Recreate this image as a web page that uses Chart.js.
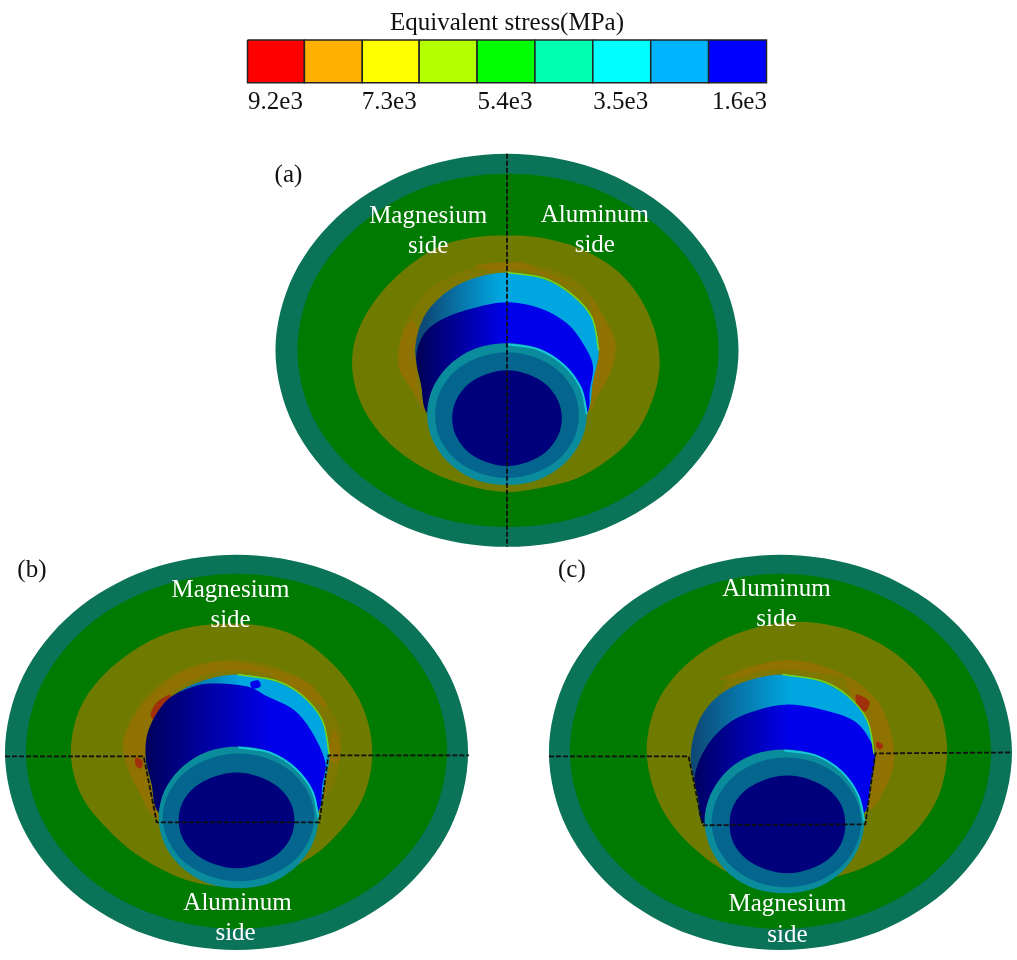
<!DOCTYPE html>
<html>
<head>
<meta charset="utf-8">
<title>Equivalent stress</title>
<script src="https://cdn.jsdelivr.net/npm/chart.js@4/dist/chart.umd.min.js"></script>
<style>
    body { margin: 0; background: #fff; }
    canvas { display: block; }
</style>
</head>
<body>
<canvas id="stress_chart" width="1017" height="960"></canvas>
<script>
// color bar
const bar_edges  = [247, 304, 362, 419, 477, 535, 593, 651, 709, 767];
const bar_colors = ["#ff0000", "#ffb000", "#ffff00", "#b4ff00", "#00ff00", "#00ffb0", "#00ffff", "#00b4ff", "#0000ff"];
const bar_ticks  = ["9.2e3", "7.3e3", "5.4e3", "3.5e3", "1.6e3"];
const bar_tick_x = [275, 389, 505, 621, 740];

// panel (a) outlines
const a_outer = [[739,350],[721,425],[671,489],[596,532],[507,547],[418,532],[343,489],[293,425],[275,350],[293,275],[343,211],[418,168],[507,153],[596,168],[671,211],[721,275]];
const a_inner = [[719,350],[703,418],[657,475],[589,514],[508,527],[427,514],[359,475],[313,418],[297,350],[313,282],[359,225],[427,186],[508,173],[589,186],[657,225],[703,282]];
const a_olive = [[507,235],[540,237],[580,248],[617,270],[640,297],[655,330],[660,363],[655,393],[640,427],[617,453],[580,477],[540,488],[507,492],[473,487],[433,473],[397,450],[370,420],[355,387],[352,355],[360,325],[377,297],[403,270],[437,247],[473,237]];
const a_halo  = [[507,262],[530,263],[573,278],[593,297],[607,320],[617,343],[612,370],[600,390],[588,412],[427,412],[412,390],[398,367],[400,337],[408,317],[427,290],[453,275],[480,265]];
const a_patch1 = [[398,357],[403,333],[412,320],[417,330],[415,357],[420,397],[427,412],[412,390],[400,370]];
const a_patch2 = [[590,297],[603,317],[615,343],[610,373],[597,397],[588,412],[593,373],[597,330]];
const a_patch3 = [[475,265],[520,262],[540,270],[580,287],[567,283],[527,270],[490,270]];
const a_wall  = [[599,350],[592,318],[572,295],[545,279],[507,272],[470,279],[442,295],[423,318],[415,350],[421,382],[427,413],[455,430],[560,430],[587,413],[593,382]];
const a_band  = [[507,302],[540,308],[567,323],[583,343],[593,365],[590,390],[587,413],[560,430],[455,430],[427,413],[421,385],[416,357],[423,335],[440,320],[473,308]];
const a_ring1 = [[587,414],[581,441],[564,464],[538,480],[507,485],[476,480],[450,464],[433,441],[427,414],[433,387],[450,364],[476,348],[507,343],[538,348],[564,364],[581,387]];
const a_ring2 = [[579,415],[574,439],[558,460],[535,473],[507,478],[479,473],[456,460],[440,439],[435,415],[440,391],[456,370],[479,357],[507,352],[535,357],[558,370],[574,391]];
const a_core  = [[562,418],[558,436],[546,452],[528,462],[507,466],[486,462],[468,452],[456,436],[452,418],[456,400],[468,384],[486,374],[507,370],[528,374],[546,384],[558,400]];
const a_edge  = [[507,272],[545,278],[572,294],[592,317],[599,350]];
const a_rim   = [[507,344],[538,349],[564,365],[581,388],[587,414]];
const a_dash  = [[507,153],[507,547]];

// panel (b) outlines
const b_outer = [[468,753],[450,829],[400,893],[325,936],[236,951],[147,936],[72,893],[22,829],[4,753],[22,677],[72,613],[147,570],[236,555],[325,570],[400,613],[450,677]];
const b_inner = [[447,752],[431,820],[385,878],[317,916],[236,930],[155,916],[87,878],[41,820],[25,752],[41,684],[87,626],[155,588],[236,574],[317,588],[385,626],[431,684]];
const b_olive = [[372,752],[361,802],[325,847],[285,872],[245,887],[190,882],[140,858],[105,828],[80,795],[70,752],[81,705],[114,665],[163,635],[222,624],[285,632],[328,660],[360,702]];
const b_halo  = [[230,660],[267,665],[307,683],[327,707],[340,730],[340,750],[337,773],[327,797],[317,807],[157,820],[137,790],[125,763],[123,737],[137,707],[160,683],[190,667]];
const b_patch1 = [[123,740],[140,707],[160,687],[180,673],[220,662],[260,667],[307,683],[327,707],[307,700],[267,675],[220,672],[180,687],[157,713],[145,750],[157,820],[137,790],[125,763]];
const b_patch2 = [[333,730],[340,747],[338,763],[329,760]];
const b_wall  = [[329,755],[322,722],[302,697],[275,682],[237,675],[200,682],[172,697],[153,722],[145,757],[151,785],[157,812],[185,830],[290,830],[318,812],[324,785]];
const b_band  = [[210,684],[247,687],[267,697],[293,710],[310,730],[325,763],[322,785],[318,812],[290,830],[185,830],[157,812],[151,785],[145,757],[148,730],[167,700],[193,687]];
const b_ring1 = [[318,818],[312,845],[295,868],[269,884],[238,889],[207,884],[181,868],[164,845],[158,818],[164,791],[181,768],[207,752],[238,747],[269,752],[295,768],[312,791]];
const b_ring2 = [[314,818],[308,842],[292,863],[267,877],[238,882],[209,877],[184,863],[168,842],[162,818],[168,794],[184,773],[209,759],[238,754],[267,759],[292,773],[308,794]];
const b_core  = [[294,821],[290,839],[277,855],[258,865],[236,869],[214,865],[195,855],[182,839],[178,821],[182,803],[195,787],[214,777],[236,773],[258,777],[277,787],[290,803]];
const b_edge  = [[237,675],[275,681],[302,696],[322,721],[329,755]];
const b_rim   = [[238,748],[269,753],[295,769],[312,792],[318,818]];
const b_red1  = [[157,702],[170,695],[163,708],[153,720],[150,714]];
const b_red2  = [[135,758],[142,762],[140,769],[135,766]];
const b_blob  = [[250,683],[258,681],[260,687],[252,689]];
const b_dash  = [[4,757],[143,757],[156,823],[319,823],[328,756],[469,756]];

// panel (c) outlines
const c_outer = [[1013,753],[995,829],[945,893],[870,936],[781,951],[692,936],[617,893],[567,829],[549,753],[567,677],[617,613],[692,570],[781,555],[870,570],[945,613],[995,677]];
const c_inner = [[992,752],[976,820],[930,878],[862,916],[781,930],[700,916],[632,878],[586,820],[570,752],[586,684],[632,626],[700,588],[781,574],[862,588],[930,626],[976,684]];
const c_olive = [[948,752],[937,802],[904,844],[855,872],[790,884],[735,876],[690,845],[660,805],[647,752],[658,702],[690,662],[737,634],[797,622],[855,632],[904,660],[937,702]];
const c_halo  = [[777,662],[810,663],[847,677],[877,700],[890,727],[895,760],[887,787],[870,810],[720,800],[715,720],[733,675]];
const c_patch1 = [[847,677],[877,700],[890,727],[895,760],[887,787],[870,810],[875,763],[870,727],[853,700]];
const c_patch2 = [[720,680],[773,662],[810,663],[847,677],[810,672],[773,670],[737,678]];
const c_wall  = [[875,755],[868,722],[848,697],[821,682],[783,675],[746,682],[718,697],[699,722],[691,757],[697,790],[703,823],[730,835],[840,835],[866,812],[871,785]];
const c_band  = [[790,705],[830,712],[857,723],[872,743],[876,757],[871,785],[866,812],[840,835],[730,835],[703,823],[699,800],[695,777],[707,747],[730,723],[760,710]];
const c_ring1 = [[865,822],[859,849],[842,873],[816,889],[785,894],[754,889],[728,873],[711,849],[705,822],[711,795],[728,771],[754,755],[785,750],[816,755],[842,771],[859,795]];
const c_ring2 = [[862,823],[856,848],[840,869],[816,883],[787,888],[758,883],[734,869],[718,848],[712,823],[718,798],[734,777],[758,763],[787,758],[816,763],[840,777],[856,798]];
const c_core  = [[846,825],[842,844],[829,860],[810,870],[788,874],[766,870],[747,860],[734,844],[730,825],[734,806],[747,790],[766,780],[788,776],[810,780],[829,790],[842,806]];
const c_edge  = [[783,675],[821,681],[848,696],[868,721],[875,755]];
const c_rim   = [[785,751],[816,756],[842,772],[859,796],[865,822]];
const c_red1  = [[857,695],[870,702],[866,712],[858,706]];
const c_red2  = [[878,742],[884,746],[881,750],[877,747]];
const c_dash  = [[549,757],[689,757],[703,826],[866,825],[876,754],[1013,753]];

// texts
const title_text  = "Equivalent stress(MPa)";
const label_texts = ["(a)", "Magnesium", "side", "Aluminum", "side", "(b)", "Magnesium", "side", "Aluminum", "side", "(c)", "Aluminum", "side", "Magnesium", "side"];
const label_x     = [288, 428, 428, 595, 595, 31, 230, 230, 237, 235, 572, 777, 777, 788, 788];
const label_y     = [175, 216, 246, 215, 245, 571, 591, 621, 904, 934, 571, 590, 620, 905, 936];
const label_white = [false, true, true, true, true, false, true, true, true, true, false, true, true, true, true];

// styles
const TEAL = "#0a7358", GREEN = "#007a00", OLIVE = "#6f7a00", HALO = "#7e7800", PATCH = "#907200";
const RING1 = "#0a8c9c", RING2 = "#04668f", CORE = "#00007c", RED = "#a0300c";

const datasets = [];

// 閉じた線の継ぎ目が尖らないように前後を一点ずつ重ねる
function closed(points) {
    return [points[points.length - 1]].concat(points, [points[0], points[1]]);
}

// 左が暗くなるグラデーション
function shade(from_x, to_x, dark, light) {
    return function (context) {
        const scale = context.chart.scales.x;
        const x0 = scale ? scale.getPixelForValue(from_x) : NaN;
        const x1 = scale ? scale.getPixelForValue(to_x) : NaN;
        if (!isFinite(x0) || !isFinite(x1)) {
            return light;
        }
        const grad = context.chart.ctx.createLinearGradient(x0, 0, x1, 0);
        grad.addColorStop(0, dark);
        grad.addColorStop(1, light);
        return grad;
    };
}

function add_shape(points, color) {
    datasets.push({
        data: closed(points),
        showLine: true,
        fill: "shape",
        backgroundColor: color,
        borderWidth: 0,
        pointRadius: 0,
        tension: 0.33
    });
}

function add_line(points, color, width, dash) {
    datasets.push({
        data: points,
        showLine: true,
        fill: false,
        borderColor: color,
        borderWidth: width,
        borderDash: dash || [],
        pointRadius: 0,
        tension: dash ? 0 : 0.33
    });
}

for (let i = 0; i < bar_colors.length; i++) {
    const left = bar_edges[i], right = bar_edges[i + 1];
    datasets.push({
        data: [[left, 39], [right, 39], [right, 82], [left, 82], [left, 39]],
        showLine: true,
        fill: "shape",
        backgroundColor: bar_colors[i],
        borderColor: "#222",
        borderWidth: 1.5,
        pointRadius: 0,
        tension: 0
    });
}

// panel (a)
add_shape(a_outer, TEAL);
add_shape(a_inner, GREEN);
add_shape(a_olive, OLIVE);
add_shape(a_halo, HALO);
add_shape(a_patch1, PATCH);
add_shape(a_patch2, PATCH);
add_shape(a_patch3, PATCH);
add_shape(a_wall, shade(425, 500, "#0e4a78", "#00a6e0"));
add_shape(a_band, shade(420, 505, "#00005c", "#0000ea"));
add_line(a_edge, "#70d820", 1.5);
add_shape(a_ring1, RING1);
add_shape(a_ring2, RING2);
add_shape(a_core, CORE);
add_line(a_rim, "#18c8d8", 2);
add_line(a_dash, "#111", 1.8, [5, 2]);

// panel (b)
add_shape(b_outer, TEAL);
add_shape(b_inner, GREEN);
add_shape(b_olive, OLIVE);
add_shape(b_halo, HALO);
add_shape(b_patch1, PATCH);
add_shape(b_patch2, PATCH);
add_shape(b_red1, RED);
add_shape(b_red2, RED);
add_shape(b_wall, shade(150, 240, "#0e4a78", "#00a6e0"));
add_shape(b_band, shade(145, 270, "#00005c", "#0000ea"));
add_shape(b_blob, "#0000ea");
add_line(b_edge, "#70d820", 1.5);
add_shape(b_ring1, RING1);
add_shape(b_ring2, RING2);
add_shape(b_core, CORE);
add_line(b_rim, "#18c8d8", 2);
add_line(b_dash, "#111", 1.8, [5, 2]);

// panel (c)
add_shape(c_outer, TEAL);
add_shape(c_inner, GREEN);
add_shape(c_olive, OLIVE);
add_shape(c_halo, HALO);
add_shape(c_patch1, PATCH);
add_shape(c_patch2, PATCH);
add_shape(c_red1, RED);
add_shape(c_red2, RED);
add_shape(c_wall, shade(695, 790, "#0e4a78", "#00a6e0"));
add_shape(c_band, shade(690, 790, "#00005c", "#0000ea"));
add_line(c_edge, "#70d820", 1.5);
add_shape(c_ring1, RING1);
add_shape(c_ring2, RING2);
add_shape(c_core, CORE);
add_line(c_rim, "#18c8d8", 2);
add_line(c_dash, "#111", 1.8, [5, 2]);

// 最初に入れたものが下になるようにする
datasets.forEach(function (dataset, i) {
    dataset.order = datasets.length - i;
});

const text_plugin = {
    id: "text_plugin",
    afterDraw: function (chart) {
        const ctx = chart.ctx;
        const x = chart.scales.x, y = chart.scales.y;
        ctx.save();
        ctx.textAlign = "center";
        ctx.textBaseline = "middle";
        ctx.font = '25px "Liberation Serif"';
        ctx.fillStyle = "#111";
        ctx.fillText(title_text, x.getPixelForValue(507), y.getPixelForValue(22));
        bar_ticks.forEach(function (tick, i) {
            ctx.fillText(tick, x.getPixelForValue(bar_tick_x[i]), y.getPixelForValue(102));
        });
        label_texts.forEach(function (label, i) {
            ctx.fillStyle = label_white[i] ? "#fff" : "#111";
            ctx.fillText(label, x.getPixelForValue(label_x[i]), y.getPixelForValue(label_y[i]));
        });
        ctx.restore();
    }
};

const stress_chart = new Chart(document.getElementById("stress_chart").getContext("2d"), {
    type: "scatter",
    data: { datasets: datasets },
    options: {
        responsive: false,
        animation: false,
        layout: { padding: 0 },
        plugins: {
            legend: { display: false },
            tooltip: { enabled: false }
        },
        scales: {
            x: { type: "linear", display: false, min: 0, max: 1017 },
            y: { type: "linear", display: false, min: 0, max: 960, reverse: true }
        }
    },
    plugins: [text_plugin]
});
stress_chart.update();
</script>
</body>
</html>
